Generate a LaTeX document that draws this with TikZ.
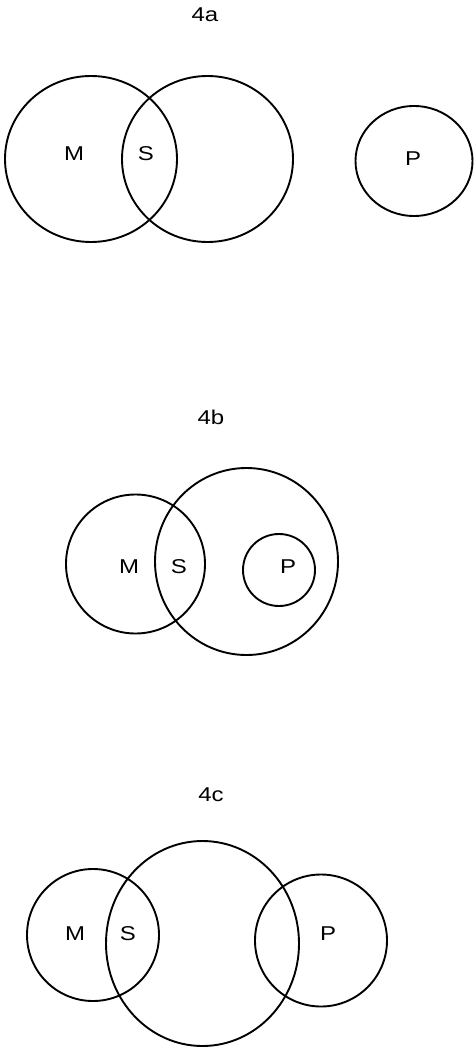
\documentclass[tikz,border=0pt]{standalone}
\usepackage{fontspec}
\setmainfont{Liberation Sans}[FakeStretch=1.2]
\tikzstyle{ring}=[draw,line width=1.9pt]
\tikzstyle{lbl}=[font=\fontsize{20}{20}\selectfont,inner sep=0pt]

\begin{document}
\begin{tikzpicture}[x=1pt,y=-1pt]
    \useasboundingbox (0,0) rectangle (474,1048);
    \clip (0,0) rectangle (474,1048);
    % 4a
    \node[lbl] (t4a) at (205,15) {4a};
    \draw[ring] (91,159) ellipse (86 and 83);
    \draw[ring] (207.5,159) ellipse (85.5 and 83);
    \draw[ring] (414,161) ellipse (58.5 and 55);
    \node[lbl] (m4a) at (74,154) {M};
    \node[lbl] (s4a) at (146,154) {S};
    \node[lbl] (p4a) at (413,159) {P};
    % 4b
    \node[lbl] (t4b) at (211,417) {4b};
    \draw[ring] (135.5,564) circle (69.5);
    \draw[ring] (246.5,561.5) ellipse (91.5 and 93.5);
    \draw[ring] (279,570) circle (36);
    \node[lbl] (m4b) at (129,567) {M};
    \node[lbl] (s4b) at (179,567) {S};
    \node[lbl] (p4b) at (288,567) {P};
    % 4c
    \node[lbl] (t4c) at (211,795) {4c};
    \draw[ring] (93,935) circle (66);
    \draw[ring] (202.5,943.5) ellipse (96.5 and 102.5);
    \draw[ring] (321,940.5) circle (66);
    \node[lbl] (m4c) at (75,934) {M};
    \node[lbl] (s4c) at (128,934) {S};
    \node[lbl] (p4c) at (328,934) {P};
\end{tikzpicture}
\end{document}
